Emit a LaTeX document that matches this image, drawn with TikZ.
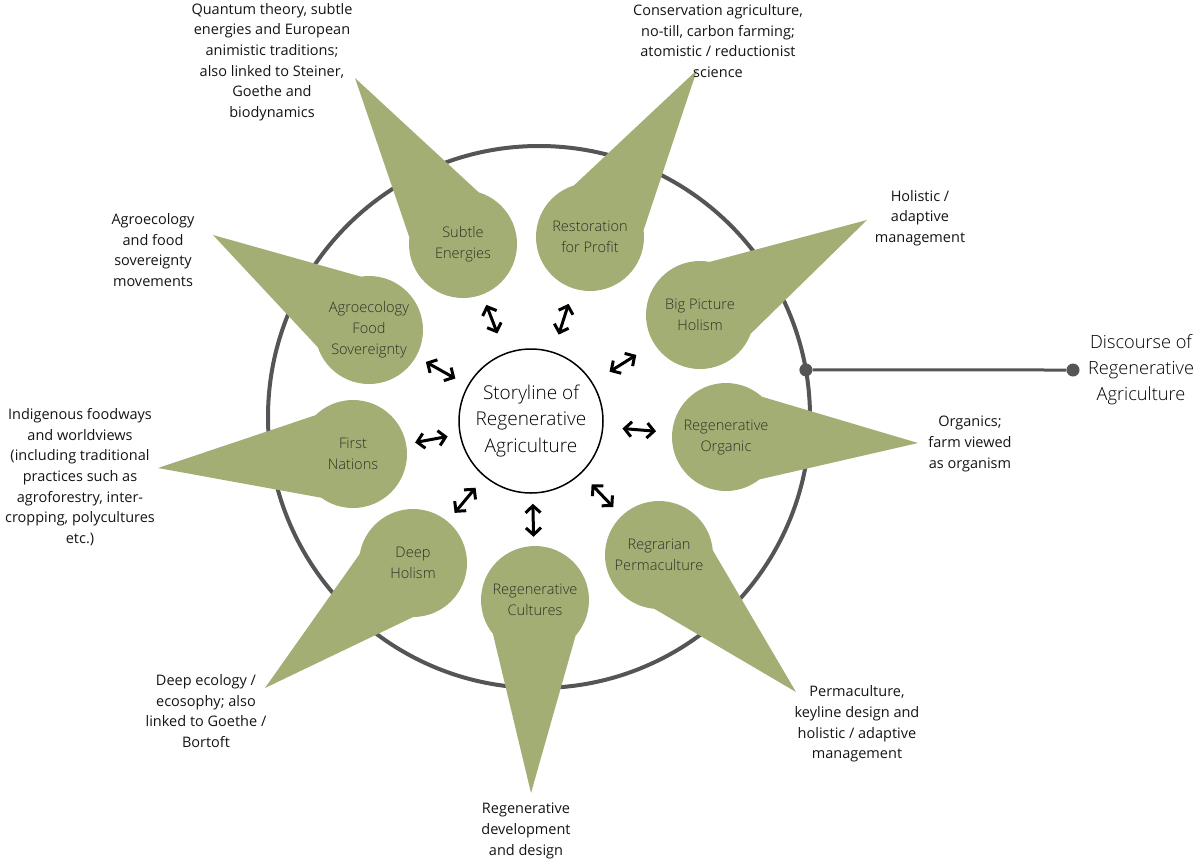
\documentclass[tikz,border=0pt]{standalone}
\usepackage{fontspec}
\setmainfont{Open Sans}
\newfontfamily\headfont{Open Sans Light}
\usetikzlibrary{calc,arrows.meta}
\definecolor{leaf}{RGB}{163,174,116}
\definecolor{ringgray}{RGB}{85,85,85}
\definecolor{headtext}{RGB}{45,48,38}
\definecolor{labeltext}{RGB}{20,20,20}
\begin{document}
\begin{tikzpicture}[x=1pt,y=-1pt,
  head/.style={circle, fill=leaf, minimum size=108pt, inner sep=0pt, align=center,
    text=headtext, font=\headfont\fontsize{14.6}{21}\selectfont},
  note/.style={align=center, text=labeltext, inner sep=0pt,
    font=\fontsize{14.5}{20.7}\selectfont},
  link/.style={draw=black, line width=3pt,
    {Straight Barb[length=7pt,width=15pt]}-{Straight Barb[length=7pt,width=15pt]}},
  ringline/.style={draw=ringgray, line width=4pt},
  dotnode/.style={circle, fill=ringgray, minimum size=13pt, inner sep=0pt},
  tailfill/.style={fill=leaf}]
\useasboundingbox (0,0) rectangle (1200,865);

% big discourse ring
\node[circle, ringline, minimum size=542pt, inner sep=0pt, outer sep=0pt] (disc) at (539,417) {};

% head centres and tail tips
\coordinate (cse) at (463,244); \coordinate (tse) at (355,78);
\coordinate (crp) at (590,237); \coordinate (trp) at (697,70);
\coordinate (cbp) at (700,315); \coordinate (tbp) at (867,220);
\coordinate (cro) at (726,437); \coordinate (tro) at (918,443);
\coordinate (cpc) at (659,555); \coordinate (tpc) at (796,692);
\coordinate (crc) at (535,600); \coordinate (trc) at (531,793);
\coordinate (cdh) at (413,563); \coordinate (tdh) at (265,688);
\coordinate (cfn) at (353,454); \coordinate (tfn) at (158,468);
\coordinate (caf) at (369,330); \coordinate (taf) at (213,235);

% tails
\foreach \c/\t in {cse/tse,crp/trp,cbp/tbp,cro/tro,cpc/tpc,crc/trc,cdh/tdh,cfn/tfn,caf/taf}{
  \fill[tailfill] (\t) -- ($(\c)!54pt!50:(\t)$) -- ($(\c)!54pt!-50:(\t)$) -- cycle;
}

% heads
\node[head] (se) at (cse) {Subtle\\Energies};
\node[head] (rp) at (crp) {Restoration\\for Profit};
\node[head] (bp) at (cbp) {Big Picture\\Holism};
\node[head] (ro) at (cro) {Regenerative\\Organic};
\node[head] (pc) at (cpc) {Regrarian\\Permaculture};
\node[head] (rc) at (crc) {Regenerative\\Cultures};
\node[head] (dh) at (cdh) {Deep\\Holism};
\node[head] (fn) at (cfn) {First\\Nations};
\node[head] (af) at (caf) {Agroecology\\Food\\Sovereignty};

% centre
\node[circle, draw=black, line width=1.5pt, minimum size=144pt, inner sep=0pt,
  align=center, font=\headfont\fontsize{19}{26.5}\selectfont] (story) at (531,421)
  {Storyline of\\Regenerative\\Agriculture};

% arrows
\draw[link, shorten <=21pt, shorten >=11pt] (story) -- (se);
\draw[link, shorten <=18pt, shorten >=16pt] (story) -- (rp);
\draw[link, shorten <=20pt, shorten >=21pt] (story) -- (bp);
\draw[link, shorten <=19pt, shorten >=16pt] (story) -- (ro);
\draw[link, shorten <=15pt, shorten >=12pt] (story) -- (pc);
\draw[link, shorten <=10pt, shorten >=9pt] (story) -- (rc);
\draw[link, shorten <=14pt, shorten >=11pt] (story) -- (dh);
\draw[link, shorten <=12pt, shorten >=9pt] (story) -- (fn);
\draw[link, shorten <=14pt, shorten >=11pt] (story) -- (af);

% outer labels
\node[note] (lse) at (272,62) {Quantum theory, subtle\\energies and European\\animistic traditions;\\also linked to Steiner,\\Goethe and\\biodynamics};
\node[note] (lrp) at (718,41) {Conservation agriculture,\\no-till, carbon farming;\\atomistic / reductionist\\science};
\node[note] (lbp) at (920,218) {Holistic /\\adaptive\\management};
\node[note] (lro) at (970,444) {Organics;\\farm viewed\\as organism};
\node[note] (lpc) at (857,724) {Permaculture,\\keyline design and\\holistic / adaptive\\management};
\node[note] (lrc) at (526,831) {Regenerative\\development\\and design};
\node[note] (ldh) at (206,711) {Deep ecology /\\ecosophy; also\\linked to Goethe /\\Bortoft};
\node[note] (lfn) at (80,477) {Indigenous foodways\\and worldviews\\(including traditional\\practices such as\\agroforestry, inter-\\cropping, polycultures\\etc.)};
\node[note] (laf) at (153,250) {Agroecology\\and food\\sovereignty\\movements};

% discourse connector
\node[dotnode] (d1) at (disc.10) {};
\node[dotnode] (d2) at (1073,370) {};
\draw[draw=ringgray, line width=3pt] (d1) -- (d2);
\node[align=center, inner sep=0pt, font=\headfont\fontsize{18.2}{26}\selectfont] (dlabel) at (1141,370)
  {Discourse of\\Regenerative\\Agriculture};
\end{tikzpicture}
\end{document}
